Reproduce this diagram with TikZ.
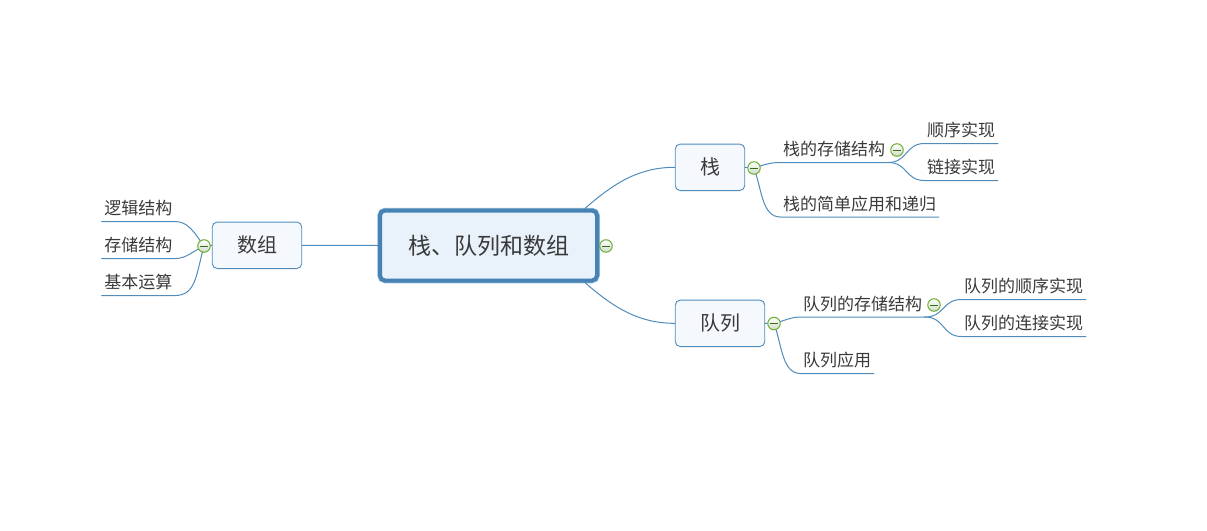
\documentclass[tikz,border=0pt]{standalone}
\usepackage{fontspec}
\setmainfont{Noto Sans CJK SC}
\usetikzlibrary{calc}
\definecolor{linkc}{HTML}{4F8CBC}
\definecolor{rootb}{HTML}{4682B4}
\definecolor{rooth}{HTML}{94BAD8}
\definecolor{rootf}{HTML}{E9F1FB}
\definecolor{subf}{HTML}{F5F8FD}
\definecolor{tog}{HTML}{6BAD2B}
\definecolor{togf}{HTML}{CFDCCB}
\definecolor{txt}{HTML}{3A3A3A}
\tikzset{
  root/.style={draw=rootb,line width=4pt,fill=rootf,rounded corners=5pt,
    preaction={draw=rooth,line width=5.5pt},
    minimum width=217pt,minimum height=70pt,inner sep=0pt,text=txt,
    font=\fontsize{23}{26}\selectfont},
  main/.style={draw=linkc,line width=0.9pt,fill=subf,rounded corners=5pt,
    minimum height=46.5pt,inner sep=0pt,text=txt,
    font=\fontsize{20}{23}\selectfont},
  leaf/.style={inner xsep=2.5pt,inner ysep=0pt,minimum height=26pt,text=txt,
    font=\fontsize{17}{20}\selectfont},
  toggle/.style={circle,draw=tog,line width=1pt,inner sep=0pt,minimum size=12.5pt,
    top color=white,bottom color=togf,
    path picture={\draw[draw=tog!60!black,line width=1pt]
      ([xshift=-3.6pt]path picture bounding box.center) -- ([xshift=3.6pt]path picture bounding box.center);}},
  link/.style={draw=linkc,line width=1pt,line cap=round},
}
\begin{document}
\begin{tikzpicture}[x=1pt,y=-1pt]
\useasboundingbox (0,0) rectangle (1207,530);
\node[root] (r) at (488.5,245.5) {栈、队列和数组};
\node[main,minimum width=69.5pt] (zhan) at (710,167.3) {栈};
\node[main,minimum width=89.5pt] (dui) at (720,323.3) {队列};
\node[main,minimum width=89.5pt] (shu) at (257,245.3) {数组};
\node[toggle] (tr) at (606,246) {};
\node[leaf,anchor=south west] (zc) at (780.5,162.5) {栈的存储结构};
\node[leaf,anchor=south west] (zs) at (924.5,143.5) {顺序实现};
\node[leaf,anchor=south west] (zl) at (924.5,180.5) {链接实现};
\node[leaf,anchor=south west] (zy) at (780.5,217) {栈的简单应用和递归};
\node[leaf,anchor=south west] (dc) at (800.5,317) {队列的存储结构};
\node[leaf,anchor=south west] (ds) at (961.5,299.5) {队列的顺序实现};
\node[leaf,anchor=south west] (dl) at (961.5,336.5) {队列的连接实现};
\node[leaf,anchor=south west] (dy) at (800.5,373.5) {队列应用};
\node[leaf,anchor=south east] (sl) at (175,221.5) {逻辑结构};
\node[leaf,anchor=south east] (sc) at (175,258.5) {存储结构};
\node[leaf,anchor=south east] (sj) at (175,295.5) {基本运算};
% toggle positions as named nodes, drawn after the connectors
\coordinate (tz) at (754,168);
\coordinate (td) at (774,323.5);
\coordinate (ts) at (204,246);
% root links
\draw[link] (r.21.6) .. controls (615,182) and (640,167.3) .. (zhan.west);
\draw[link] (r.-21.6) .. controls (615,309) and (640,323.3) .. (dui.west);
\draw[link] (r.west) -- (shu.east);
% stack
\draw[link] (zhan.east) -- (tz);
\draw[link] (tz) .. controls (766,164) and (772,162.5) .. (zc.south west) -- (zc.south east);
\draw[link] (tz) .. controls (762,190) and (762,217) .. (zy.south west) -- (zy.south east);
\draw[link] (zc.south east) .. controls (908,162.5) and (905,143.5) .. (zs.south west) -- (zs.south east);
\draw[link] (zc.south east) .. controls (908,162.5) and (905,180.5) .. (zl.south west) -- (zl.south east);
% queue
\draw[link] (dui.east) -- (td);
\draw[link] (td) .. controls (786,320) and (792,317) .. (dc.south west) -- (dc.south east);
\draw[link] (td) .. controls (782,345) and (782,373.5) .. (dy.south west) -- (dy.south east);
\draw[link] (dc.south east) .. controls (945,317) and (942,299.5) .. (ds.south west) -- (ds.south east);
\draw[link] (dc.south east) .. controls (945,317) and (942,336.5) .. (dl.south west) -- (dl.south east);
% array
\draw[link] (shu.west) -- (ts);
\draw[link] (ts) .. controls (194,232) and (188,221.5) .. (sl.south east) -- (sl.south west);
\draw[link] (ts) .. controls (190,253) and (186,258.5) .. (sc.south east) -- (sc.south west);
\draw[link] (ts) .. controls (196,275) and (196,295.5) .. (sj.south east) -- (sj.south west);
% toggles on top
\node[toggle] (tza) at (tz) {};
\node[toggle] (tda) at (td) {};
\node[toggle] (tsa) at (ts) {};
\node[toggle] (tzc) at (897,150) {};
\node[toggle] (tdc) at (934,305) {};
\end{tikzpicture}
\end{document}
